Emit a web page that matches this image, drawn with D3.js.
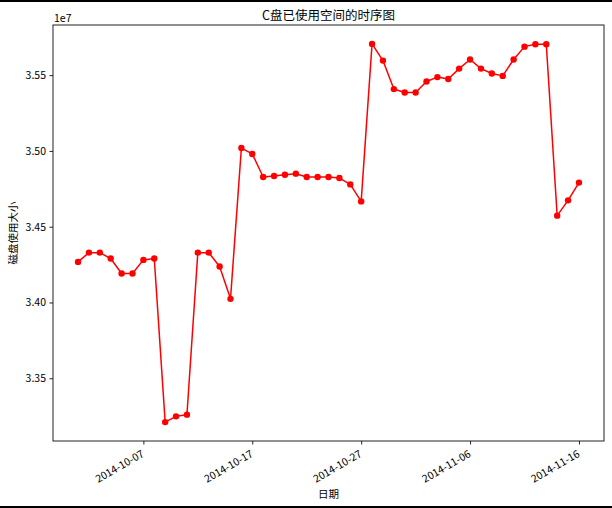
<!DOCTYPE html>
<html>
<head>
<meta charset="utf-8">
<script src="https://cdn.jsdelivr.net/npm/d3@7"></script>
<style>
  html, body { margin: 0; padding: 0; background: #fff; }
  svg { display: block; }
  text { font-family: "Noto Sans CJK SC", "DejaVu Sans", sans-serif; fill: #000; }
</style>
</head>
<body>
<svg id="chart" width="612" height="508"></svg>
<script>
// ---- data ----
const dates = [
  "2014-10-01","2014-10-02","2014-10-03","2014-10-04","2014-10-05","2014-10-06","2014-10-07",
  "2014-10-08","2014-10-09","2014-10-10","2014-10-11","2014-10-12","2014-10-13","2014-10-14",
  "2014-10-15","2014-10-16","2014-10-17","2014-10-18","2014-10-19","2014-10-20","2014-10-21",
  "2014-10-22","2014-10-23","2014-10-24","2014-10-25","2014-10-26","2014-10-27","2014-10-28",
  "2014-10-29","2014-10-30","2014-10-31","2014-11-01","2014-11-02","2014-11-03","2014-11-04",
  "2014-11-05","2014-11-06","2014-11-07","2014-11-08","2014-11-09","2014-11-10","2014-11-11",
  "2014-11-12","2014-11-13","2014-11-14","2014-11-15","2014-11-16"
];
const usedSpace = [
  34268000, 34329000, 34329000, 34290000, 34191000, 34191000, 34281000,
  34290000, 33211000, 33249000, 33260000, 34329000, 34329000, 34237000,
  34024000, 35019000, 34980000, 34828000, 34835000, 34843000, 34850000,
  34828000, 34828000, 34828000, 34821000, 34779000, 34667000, 35706000,
  35596000, 35408000, 35385000, 35385000, 35458000, 35487000, 35474000,
  35543000, 35603000, 35543000, 35511000, 35495000, 35603000, 35688000,
  35704000, 35704000, 34573000, 34674000, 34791000
];
const yTicks = [33500000, 34000000, 34500000, 35000000, 35500000];
const xTickLabels = ["2014-10-07","2014-10-17","2014-10-27","2014-11-06","2014-11-16"];
const titleText = "C盘已使用空间的时序图";
const xLabelText = "日期";
const yLabelText = "磁盘使用大小";
const offsetText = "1e7";

// ---- layout ----
const W = 612, H = 508;
const plot = { left: 53, right: 604, top: 25, bottom: 441 };
const parse = d3.timeParse("%Y-%m-%d");
const data = dates.map((d, i) => ({ date: parse(d), value: usedSpace[i] }));

const svg = d3.select("#chart");
svg.append("rect").attr("width", W).attr("height", H).attr("fill", "#fff");

// x scale with 5% margins (matplotlib style)
const xExt = d3.extent(data, d => +d.date);
const xPad = (xExt[1] - xExt[0]) * 0.05;
const x = d3.scaleTime()
  .domain([new Date(xExt[0] - xPad), new Date(xExt[1] + xPad)])
  .range([plot.left, plot.right]);

const yExt = d3.extent(data, d => d.value);
const yPad = (yExt[1] - yExt[0]) * 0.05;
const y = d3.scaleLinear()
  .domain([yExt[0] - yPad, yExt[1] + yPad])
  .range([plot.bottom, plot.top]);

// line
const line = d3.line().x(d => x(d.date)).y(d => y(d.value));
svg.append("path")
  .datum(data)
  .attr("d", line)
  .attr("fill", "none")
  .attr("stroke", "#ff0000")
  .attr("stroke-width", 1.5)
  .attr("stroke-linejoin", "round");

svg.append("g").selectAll("circle")
  .data(data)
  .join("circle")
  .attr("cx", d => x(d.date))
  .attr("cy", d => y(d.value))
  .attr("r", 3.2)
  .attr("fill", "#ff0000");

// frame
svg.append("rect")
  .attr("x", plot.left).attr("y", plot.top)
  .attr("width", plot.right - plot.left)
  .attr("height", plot.bottom - plot.top)
  .attr("fill", "none")
  .attr("stroke", "#222")
  .attr("stroke-width", 1);

// y axis
const yAxis = d3.axisLeft(y)
  .tickValues(yTicks)
  .tickSize(3.5)
  .tickPadding(3.5)
  .tickFormat(v => (v / 1e7).toFixed(2));
const gy = svg.append("g").attr("transform", `translate(${plot.left},0)`).call(yAxis);
gy.select(".domain").remove();
gy.selectAll(".tick line").attr("stroke", "#222");
gy.selectAll(".tick text").attr("font-size", 10.5)
  .attr("font-family", '"Noto Sans CJK SC", "DejaVu Sans", sans-serif').attr("fill", "#000");

// x axis
const xTickDates = xTickLabels.map(parse);
const xAxis = d3.axisBottom(x)
  .tickValues(xTickDates)
  .tickSize(3.5)
  .tickFormat(d3.timeFormat("%Y-%m-%d"));
const gx = svg.append("g").attr("transform", `translate(0,${plot.bottom})`).call(xAxis);
gx.select(".domain").remove();
gx.selectAll(".tick line").attr("stroke", "#222");
gx.selectAll(".tick text")
  .attr("font-size", 10.5)
  .attr("font-family", '"Noto Sans CJK SC", "DejaVu Sans", sans-serif')
  .attr("fill", "#000")
  .attr("text-anchor", "end")
  .attr("dy", null)
  .attr("y", 0)
  .attr("transform", "translate(1,15) rotate(-30)");

// offset text
svg.append("text")
  .attr("x", plot.left + 1).attr("y", 22)
  .attr("font-size", 10.5)
  .text(offsetText);

// title
svg.append("text")
  .attr("x", (plot.left + plot.right) / 2).attr("y", 20)
  .attr("text-anchor", "middle")
  .attr("font-size", 12.5)
  .text(titleText);

// x label
svg.append("text")
  .attr("x", (plot.left + plot.right) / 2).attr("y", 498)
  .attr("text-anchor", "middle")
  .attr("font-size", 10.5)
  .text(xLabelText);

// y label
svg.append("text")
  .attr("transform", `translate(17,${(plot.top + plot.bottom) / 2}) rotate(-90)`)
  .attr("text-anchor", "middle")
  .attr("font-size", 10.5)
  .text(yLabelText);

// black bars at top and bottom edges
svg.append("rect").attr("x", 0).attr("y", 0).attr("width", W).attr("height", 2).attr("fill", "#000");
svg.append("rect").attr("x", 0).attr("y", 506).attr("width", W).attr("height", 2).attr("fill", "#000");
</script>
</body>
</html>
